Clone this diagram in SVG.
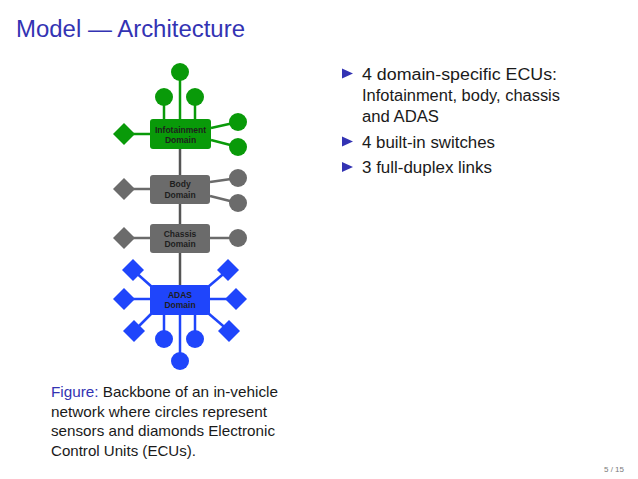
<svg xmlns="http://www.w3.org/2000/svg" width="638" height="479" viewBox="0 0 638 479">
<style>
.bg{fill:#ffffff}
.title{font-family:"Liberation Sans",Arial,sans-serif;font-size:23px;fill:#3333b3}
.body{font-family:"Liberation Sans",Arial,sans-serif;font-size:16px;fill:#1a1a1a}
.cap{font-family:"Liberation Sans",Arial,sans-serif;font-size:15px;fill:#1a1a1a}
.capl{fill:#3333b3}
.bul{fill:#3333b3}
.pg{font-family:"Liberation Sans",Arial,sans-serif;font-size:8px;fill:#7a7a7a}
.lbl{font-family:"Liberation Sans",Arial,sans-serif;font-size:8.5px;font-weight:bold;fill:#1e1e1e;text-anchor:middle}
.g{fill:#099a09}
.gs{stroke:#099a09;stroke-width:2.5;fill:none}
.k{fill:#6b6b6b}
.ks{stroke:#6b6b6b;stroke-width:2.5;fill:none}
.b{fill:#1f45fb}
.bs{stroke:#1f45fb;stroke-width:2.5;fill:none}
.bb{stroke:#555555;stroke-width:2.5;fill:none}
</style>
<rect class="bg" x="0" y="0" width="638" height="479"/>
<text class="title" x="16" y="37" textLength="229" lengthAdjust="spacingAndGlyphs">Model — Architecture</text>

<g id="connectors">
  <line class="bb" x1="180" y1="149" x2="180" y2="175"/>
  <line class="bb" x1="180" y1="204" x2="180" y2="224"/>
  <line class="bb" x1="180" y1="253" x2="180" y2="285"/>
  <line class="gs" x1="180" y1="72" x2="180" y2="119"/>
  <line class="gs" x1="164" y1="97" x2="164" y2="119"/>
  <line class="gs" x1="195" y1="97" x2="195" y2="119"/>
  <line class="gs" x1="124" y1="134" x2="150" y2="134"/>
  <line class="gs" x1="211" y1="128" x2="238" y2="122"/>
  <line class="gs" x1="211" y1="140" x2="238" y2="147"/>
  <line class="ks" x1="124" y1="189" x2="150" y2="189"/>
  <line class="ks" x1="210" y1="182" x2="238" y2="178"/>
  <line class="ks" x1="210" y1="196" x2="238" y2="203"/>
  <line class="ks" x1="124" y1="238" x2="150" y2="238"/>
  <line class="ks" x1="210" y1="238" x2="238" y2="238"/>
  <line class="bs" x1="133" y1="270" x2="152" y2="287"/>
  <line class="bs" x1="124" y1="299" x2="150" y2="299"/>
  <line class="bs" x1="134" y1="331" x2="152" y2="313"/>
  <line class="bs" x1="228" y1="270" x2="208" y2="287"/>
  <line class="bs" x1="236" y1="299" x2="210" y2="299"/>
  <line class="bs" x1="229" y1="331" x2="208" y2="313"/>
  <line class="bs" x1="164" y1="315" x2="164" y2="339"/>
  <line class="bs" x1="195" y1="315" x2="195" y2="339"/>
  <line class="bs" x1="180" y1="315" x2="180" y2="361"/>
</g>

<g id="infotainment">
  <rect class="g" x="150" y="119" width="61" height="30" rx="3"/>
  <text class="lbl" x="180.5" y="132.5">Infotainment</text>
  <text class="lbl" x="180.5" y="143">Domain</text>
</g>
<g id="info-sensors">
  <circle class="g" cx="180" cy="72" r="9"/>
  <circle class="g" cx="164" cy="97" r="9"/>
  <circle class="g" cx="195" cy="97" r="9"/>
  <circle class="g" cx="238" cy="122" r="9"/>
  <circle class="g" cx="238" cy="147" r="9"/>
</g>
<g id="info-ecu">
  <polygon class="g" points="113,134 124,123 135,134 124,145"/>
</g>

<g id="body-domain">
  <rect class="k" x="150" y="175" width="60" height="29" rx="3"/>
  <text class="lbl" x="180" y="187">Body</text>
  <text class="lbl" x="180" y="197.5">Domain</text>
</g>
<g id="body-sensors">
  <circle class="k" cx="238" cy="178" r="9"/>
  <circle class="k" cx="238" cy="203" r="9"/>
</g>
<g id="body-ecu">
  <polygon class="k" points="113,189 124,178 135,189 124,200"/>
</g>

<g id="chassis-domain">
  <rect class="k" x="150" y="224" width="60" height="29" rx="3"/>
  <text class="lbl" x="180" y="236.5">Chassis</text>
  <text class="lbl" x="180" y="247">Domain</text>
</g>
<g id="chassis-sensor">
  <circle class="k" cx="238" cy="238" r="9"/>
</g>
<g id="chassis-ecu">
  <polygon class="k" points="113,238 124,227 135,238 124,249"/>
</g>

<g id="adas-domain">
  <rect class="b" x="150" y="285" width="60" height="30" rx="3"/>
  <text class="lbl" x="180" y="297.5">ADAS</text>
  <text class="lbl" x="180" y="308">Domain</text>
</g>
<g id="adas-ecus">
  <polygon class="b" points="122,270 133,259 144,270 133,281"/>
  <polygon class="b" points="113,299 124,288 135,299 124,310"/>
  <polygon class="b" points="123,331 134,320 145,331 134,342"/>
  <polygon class="b" points="217,270 228,259 239,270 228,281"/>
  <polygon class="b" points="225,299 236,288 247,299 236,310"/>
  <polygon class="b" points="218,331 229,320 240,331 229,342"/>
</g>
<g id="adas-sensors">
  <circle class="b" cx="164" cy="339" r="9"/>
  <circle class="b" cx="195" cy="339" r="9"/>
  <circle class="b" cx="180" cy="361" r="9"/>
</g>

<g id="caption">
  <text class="cap" x="51" y="397" textLength="227" lengthAdjust="spacingAndGlyphs"><tspan class="capl">Figure:</tspan> Backbone of an in-vehicle</text>
  <text class="cap" x="51" y="416.5" textLength="216" lengthAdjust="spacingAndGlyphs">network where circles represent</text>
  <text class="cap" x="51" y="436" textLength="224" lengthAdjust="spacingAndGlyphs">sensors and diamonds Electronic</text>
  <text class="cap" x="51" y="455.5" textLength="145" lengthAdjust="spacingAndGlyphs">Control Units (ECUs).</text>
</g>

<g id="bullets">
  <polygon class="bul" points="342,68.5 353,73.5 342,78.5"/>
  <text class="body" x="362" y="79.5" textLength="195" lengthAdjust="spacingAndGlyphs">4 domain-specific ECUs:</text>
  <text class="body" x="362" y="100.5" textLength="198" lengthAdjust="spacingAndGlyphs">Infotainment, body, chassis</text>
  <text class="body" x="362" y="121.5" textLength="77" lengthAdjust="spacingAndGlyphs">and ADAS</text>
  <polygon class="bul" points="342,136.5 353,141.5 342,146.5"/>
  <text class="body" x="362" y="147.5" textLength="133" lengthAdjust="spacingAndGlyphs">4 built-in switches</text>
  <polygon class="bul" points="342,162 353,167 342,172"/>
  <text class="body" x="362" y="173" textLength="130" lengthAdjust="spacingAndGlyphs">3 full-duplex links</text>
</g>

<text class="pg" x="604" y="472">5 / 15</text>
</svg>
